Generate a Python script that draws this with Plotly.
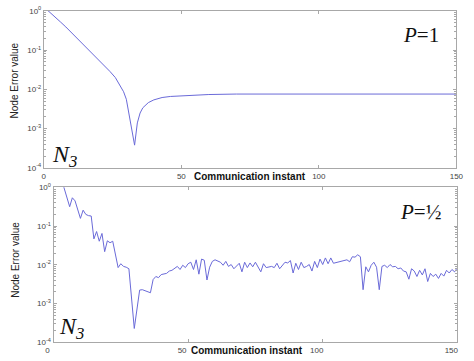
import plotly.graph_objects as go

# ---------------- data ----------------
# P = 1 (top panel)
top_t = [0, 2, 4, 6, 8, 10, 12, 14, 16, 18, 20, 22, 24, 26, 28, 29, 30, 31, 32, 33,
         34, 35, 36, 38, 40, 43, 46, 50, 55, 60, 70, 80, 90, 100, 110, 120, 130, 140, 150]
top_err = [1.26, 0.955, 0.708, 0.525, 0.389, 0.282, 0.209, 0.151, 0.110, 0.0794,
           0.0575, 0.0417, 0.0288, 0.0200, 0.0120, 0.0087, 0.0056, 0.0022, 0.00089, 0.00038,
           0.0014, 0.0025, 0.0034, 0.0046, 0.0054, 0.0062, 0.0066, 0.0069, 0.0072, 0.0074,
           0.0076, 0.0076, 0.0076, 0.0076, 0.0076, 0.0076, 0.0076, 0.0076, 0.0076]

# P = 1/2 (bottom panel)
bot_t = [3, 6, 7, 8, 10, 11, 12, 13, 14, 15, 16, 17, 18, 19, 20, 21, 22, 24, 25, 26,
         27, 28, 30, 32, 33, 35, 36, 37, 38, 39, 40, 42, 43, 44, 45, 46, 47, 48, 49, 50,
         51, 52, 53, 54, 55, 56, 57, 58, 59, 60, 62, 63, 64, 65, 66, 67, 69, 70, 71, 72,
         73, 74, 75, 77, 78, 79, 81, 82, 83, 84, 86, 87, 88, 89, 90, 91, 92, 93, 94, 95,
         96, 97, 98, 99, 100, 101, 102, 103, 104, 105, 107, 108, 109, 110, 111, 112, 113, 114, 115, 116,
         117, 118, 119, 120, 121, 122, 123, 124, 125, 126, 127, 128, 129, 130, 131, 132, 133, 134, 135, 136,
         137, 138, 139, 140, 141, 142, 143, 144, 145, 146, 147, 148, 149, 150]
bot_err = [1.58, 0.316, 0.537, 0.447, 0.158, 0.257, 0.200, 0.186, 0.182, 0.0468,
           0.0724, 0.0407, 0.0646, 0.0219, 0.0417, 0.0372, 0.0407, 0.00851, 0.0107, 0.00912,
           0.00871, 0.00794, 0.000229, 0.00224, 0.00229, 0.00200, 0.00191, 0.00417, 0.00501, 0.00468,
           0.00562, 0.00603, 0.00692, 0.00724, 0.00794, 0.00912, 0.00759, 0.00977, 0.00851, 0.0107,
           0.0117, 0.00759, 0.0135, 0.00575, 0.0141, 0.0132, 0.00407, 0.00871, 0.0123, 0.0135,
           0.0117, 0.00977, 0.0123, 0.00912, 0.0102, 0.00794, 0.0110, 0.00661, 0.0117, 0.00851,
           0.0112, 0.00891, 0.0117, 0.00661, 0.0107, 0.00851, 0.00912, 0.00851, 0.0110, 0.00794,
           0.0117, 0.0112, 0.0129, 0.00617, 0.0110, 0.00759, 0.0117, 0.00851, 0.00912, 0.0102,
           0.00692, 0.0123, 0.00851, 0.0141, 0.0102, 0.0151, 0.0107, 0.0151, 0.0110, 0.0115,
           0.0123, 0.0129, 0.0135, 0.0120, 0.0162, 0.0158, 0.0182, 0.0162, 0.00229, 0.00891,
           0.00661, 0.00977, 0.0117, 0.00871, 0.00229, 0.00912, 0.00977, 0.00851, 0.0102, 0.00891,
           0.00912, 0.00794, 0.00832, 0.00692, 0.00661, 0.00427, 0.00794, 0.00692, 0.00501, 0.00724,
           0.00550, 0.00794, 0.00372, 0.00603, 0.00501, 0.00575, 0.00447, 0.00603, 0.00513, 0.00724,
           0.00617, 0.00759, 0.00661, 0.00851]

x_ticks = [0, 50, 100, 150]
y_ticks = [1e-4, 1e-3, 1e-2, 1e-1, 1]
y_tick_labels = ["10<sup>-4</sup>", "10<sup>-3</sup>", "10<sup>-2</sup>",
                 "10<sup>-1</sup>", "10<sup>0</sup>"]
x_title = "<b>Communication instant</b>"
y_title = "Node Error value"
top_label = "<i>P</i>=1"
bot_label = "<i>P</i>=½"
node_label = "<i>N<sub>3</sub></i>"

# ---------------- figure ----------------
W, H = 474, 361
LINE = "#6a6ad8"
AX = "#a8a8a8"
TICKFONT = dict(family="Liberation Sans, Arial", size=8, color="#444")

minor_vals = [k * 10.0 ** e for e in range(-4, 0) for k in range(2, 10)]

fig = go.Figure()
fig.add_trace(go.Scatter(x=top_t, y=top_err, mode="lines",
                         line=dict(color=LINE, width=1), xaxis="x", yaxis="y",
                         showlegend=False))
fig.add_trace(go.Scatter(x=bot_t, y=bot_err, mode="lines",
                         line=dict(color=LINE, width=1), xaxis="x2", yaxis="y2",
                         showlegend=False))


def px_x(p):
    return p / W


def px_y(p):
    return 1 - p / H


xa = dict(range=[0, 150], tickmode="array", tickvals=x_ticks, ticks="inside", ticklen=3,
          tickcolor=AX, showline=True, linecolor=AX, linewidth=1, mirror="ticks",
          showgrid=False, zeroline=False, tickfont=TICKFONT)
ya = dict(type="log", range=[-4, 0], tickmode="array", tickvals=y_ticks,
          ticktext=y_tick_labels, ticks="inside", ticklen=3, tickcolor=AX,
          showline=True, linecolor=AX, linewidth=1, mirror="ticks", showgrid=False,
          zeroline=False, tickfont=TICKFONT,
          minor=dict(tickmode="array", tickvals=minor_vals, ticks="inside", ticklen=2,
                     tickcolor=AX, showgrid=False))

fig.update_layout(
    width=W, height=H, autosize=False,
    margin=dict(l=0, r=0, t=0, b=0),
    paper_bgcolor="white", plot_bgcolor="white",
    xaxis=dict(xa, domain=[px_x(37), px_x(463)], anchor="y"),
    yaxis=dict(ya, domain=[px_y(167), px_y(5)], anchor="x"),
    xaxis2=dict(xa, domain=[px_x(47), px_x(464)], anchor="y2", ticklabelshift=-6),
    yaxis2=dict(ya, domain=[px_y(347), px_y(187)], anchor="x2"),
)

ann = []
for yc in (77, 262):
    ann.append(dict(text=y_title, x=px_x(7), y=px_y(yc), xref="paper", yref="paper",
                    textangle=-90, showarrow=False, xanchor="center", yanchor="middle",
                    font=dict(family="Liberation Sans, Arial", size=10, color="#222")))
for xc, yc in ((250, 176), (247, 355)):
    ann.append(dict(text=x_title, x=px_x(xc), y=px_y(yc), xref="paper", yref="paper",
                    showarrow=False, xanchor="center", yanchor="middle",
                    font=dict(family="Liberation Sans, Arial", size=10, color="#111")))
ann.append(dict(text=top_label, x=px_x(426), y=px_y(30), xref="paper", yref="paper",
                showarrow=False, xanchor="center", yanchor="middle",
                font=dict(family="Liberation Serif, Times New Roman", size=21, color="#111")))
ann.append(dict(text=bot_label, x=px_x(426), y=px_y(212), xref="paper", yref="paper",
                showarrow=False, xanchor="center", yanchor="middle",
                font=dict(family="Liberation Serif, Times New Roman", size=21, color="#111")))
for xc, yc in ((58, 155), (66, 332)):
    ann.append(dict(text=node_label, x=px_x(xc), y=px_y(yc), xref="paper", yref="paper",
                    showarrow=False, xanchor="center", yanchor="middle",
                    font=dict(family="Liberation Serif, Times New Roman", size=24, color="#111")))
fig.update_layout(annotations=ann)

fig.write_html("out.html", config={"displayModeBar": False},
               post_script="document.body.style.margin='0px';")
